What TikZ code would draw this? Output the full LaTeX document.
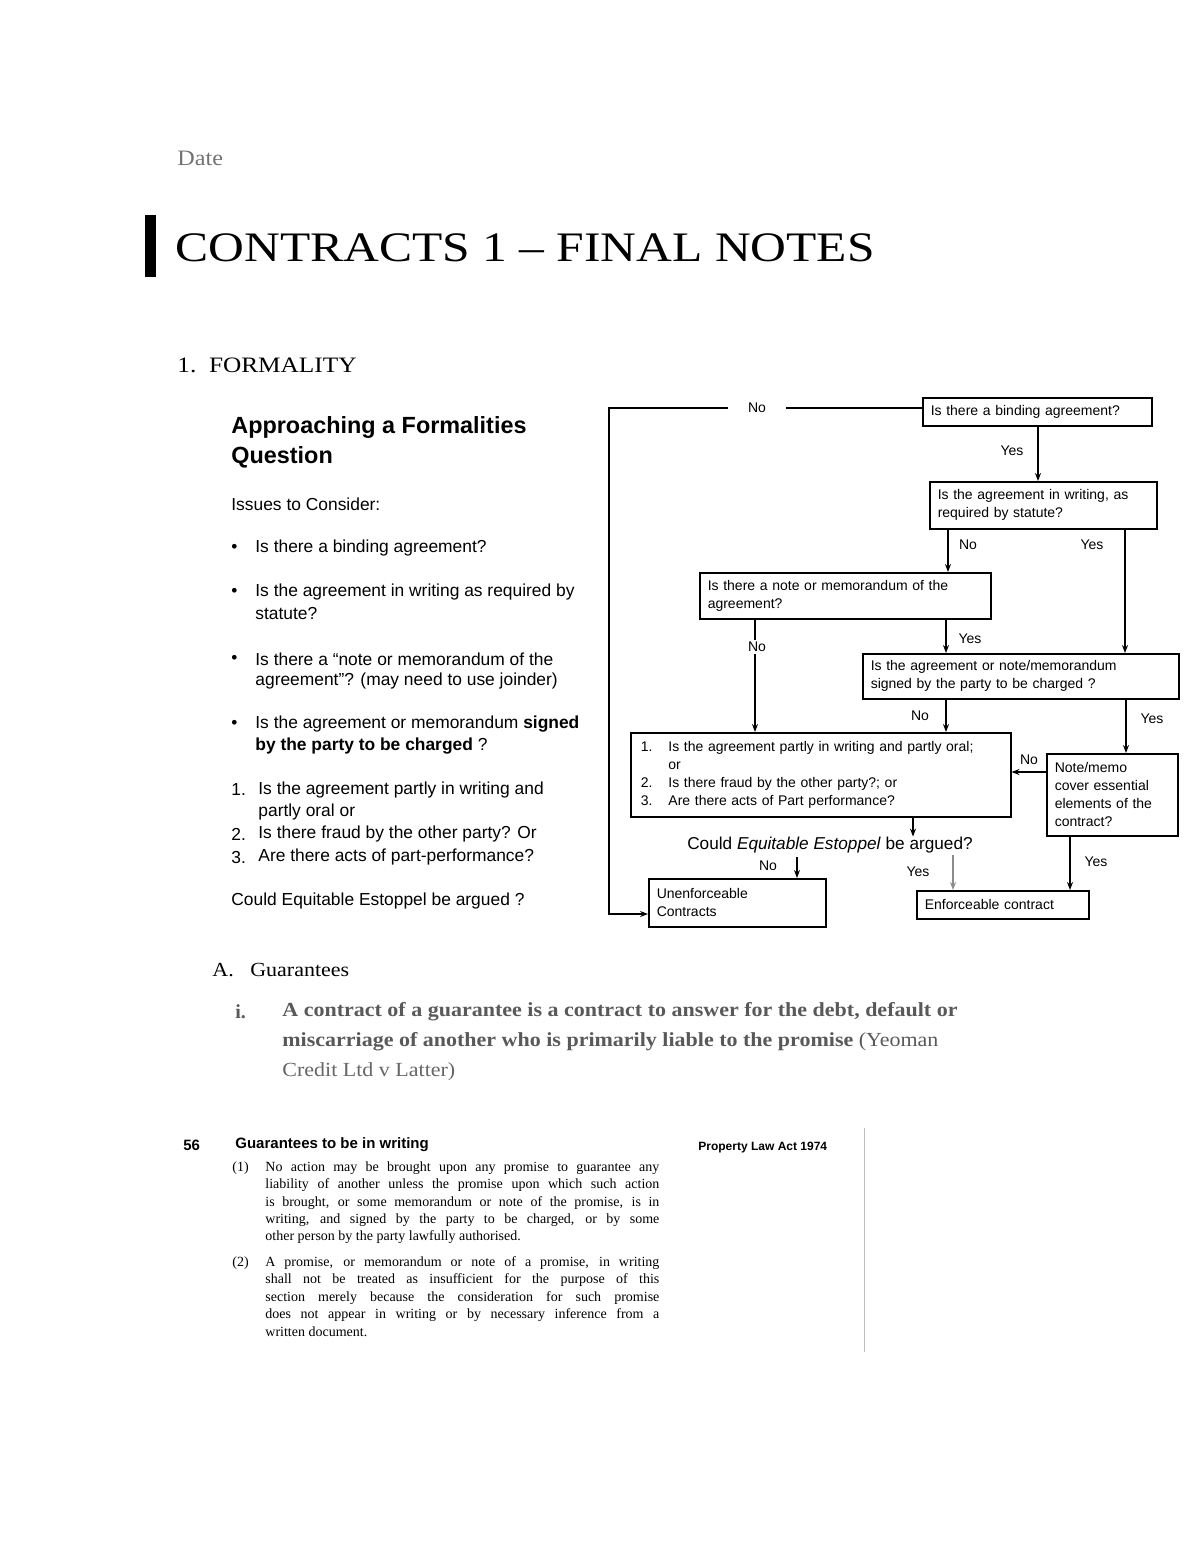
\documentclass[tikz,border=0pt]{standalone}
\usepackage{fontspec}
\setmainfont{Liberation Serif}
\setsansfont{Liberation Sans}
\usetikzlibrary{arrows.meta}
\begin{document}
\begin{tikzpicture}[x=0.5pt,y=-0.5pt,
  fc/.style={font=\sffamily\fontsize{7}{9}\selectfont},
  box/.style={draw,line width=0.75pt,fc,align=left,anchor=north west,inner xsep=4pt,inner ysep=2pt},
  lbl/.style={fc,inner sep=1pt},
  arr/.style={line width=0.6pt,-{Stealth[length=4pt,width=3pt]}},
  ln/.style={line width=0.6pt},
  lp/.style={font=\sffamily\fontsize{8.7}{11}\selectfont,anchor=west,inner sep=0pt},
  st/.style={font=\fontsize{7}{8.5}\selectfont,anchor=west,inner sep=0pt},
  gb/.style={font=\bfseries\fontsize{10}{13}\selectfont,anchor=west,inner sep=0pt,text=black!65}]
\useasboundingbox (0,0) rectangle (1200,1553);
% header
\node[anchor=west,inner sep=0pt,text=black!55,font=\fontsize{11}{13}\selectfont] (date) at (177,158) {\scalebox{1.1}[1]{Date}};
\fill (145,215) rectangle (156,277);
\node[anchor=west,inner sep=0pt,font=\fontsize{21}{25}\selectfont] (title) at (175,248) {\scalebox{1.18}[1]{CONTRACTS 1 -- FINAL NOTES}};
\node[anchor=west,inner sep=0pt,font=\fontsize{11}{13}\selectfont] (sec) at (177,365) {\scalebox{1.15}[1]{1.\ \ FORMALITY}};
% left panel
\node[anchor=west,inner sep=0pt,font=\sffamily\bfseries\fontsize{11.7}{13}\selectfont] (h1) at (231,427) {Approaching a Formalities};
\node[anchor=west,inner sep=0pt,font=\sffamily\bfseries\fontsize{11.7}{13}\selectfont] (h2) at (231,457) {Question};
\node[lp] (iss) at (231,504) {Issues to Consider:};
\foreach \y in {548,592,659,724} \node[lp] at (231,\y) {\textbullet};
\node[lp] (p1) at (255,548) {Is there a binding agreement?};
\node[lp] (p2) at (255,592) {Is the agreement in writing as required by};
\node[lp] (p2b) at (255,614) {statute?};
\node[lp] (p3) at (255,659) {Is there a “note or memorandum of the};
\node[lp] (p3b) at (255,681) {agreement”? (may need to use joinder)};
\node[lp] (p4) at (255,724) {Is the agreement or memorandum \textbf{signed}};
\node[lp] (p4b) at (255,746) {\textbf{by the party to be charged} ?};
\node[lp] (n1) at (231,790) {1.};
\node[lp] (n1t) at (258,790) {Is the agreement partly in writing and};
\node[lp] (n1b) at (258,812) {partly oral or};
\node[lp] (n2) at (231,834) {2.};
\node[lp] (n2t) at (258,834) {Is there fraud by the other party? Or};
\node[lp] (n3) at (231,857) {3.};
\node[lp] (n3t) at (258,857) {Are there acts of part-performance?};
\node[lp] (ce) at (231,901) {Could Equitable Estoppel be argued ?};
% flowchart boxes
\node[box,text width=106.5pt,minimum height=14pt] (b1) at (922,397) {Is there a binding agreement?};
\node[box,text width=105.5pt,minimum height=23.5pt] (b2) at (929,481) {Is the agreement in writing, as\\required by statute?};
\node[box,text width=137.5pt,minimum height=23pt] (b3) at (699,572) {Is there a note or memorandum of the\\agreement?};
\node[box,text width=150pt,minimum height=22.5pt] (b4) at (862,653) {Is the agreement or note/memorandum\\signed by the party to be charged ?};
\node[box,text width=184pt,minimum height=42pt,inner xsep=3pt] (b5) at (630,732) {\begin{tabular}{@{\hspace{2pt}}l@{\hspace{8pt}}l@{}}1. & Is the agreement partly in writing and partly oral;\\ & or\\ 2. & Is there fraud by the other party?; or\\ 3. & Are there acts of Part performance?\end{tabular}};
\node[box,text width=57.5pt,minimum height=41pt] (b6) at (1046,753) {Note/memo\\cover essential\\elements of the\\contract?};
\node[box,text width=80.5pt,minimum height=24pt] (b7) at (648,878) {Unenforceable\\Contracts};
\node[box,text width=78pt,minimum height=14pt] (b8) at (916,890) {Enforceable contract};
\node[font=\sffamily\fontsize{8.6}{10}\selectfont,inner sep=0pt] (eq) at (830,845) {Could \textit{Equitable Estoppel} be argued?};
% connectors
\node[lbl,fill=white,inner xsep=10pt] (no1) at (757,408) {No};
\draw[ln] (b1.west |- 0,408) -- (no1.east);
\coordinate (c1) at (609,408);
\draw[arr] (no1.west) -- (c1) -- (609,914) -- (b7.west |- 0,914);
\draw[arr] (b1.south -| 1038,0) -- (b2.north -| 1038,0);
\node[lbl] (y1) at (1012,451) {Yes};
\draw[arr] (b2.south -| 948,0) -- (b3.north -| 948,0);
\node[lbl] (no2) at (968,545) {No};
\draw[arr] (b2.south -| 1125,0) -- (b4.north -| 1125,0);
\node[lbl] (y2) at (1092,545) {Yes};
\node[lbl] (no3) at (757,647) {No};
\draw[ln] (b3.south -| 755,0) -- (no3.north -| 755,0);
\draw[arr] (no3.south -| 755,0) -- (b5.north -| 755,0);
\draw[arr] (b3.south -| 946,0) -- (b4.north -| 946,0);
\node[lbl] (y3) at (970,639) {Yes};
\draw[arr] (b4.south -| 946,0) -- (b5.north -| 946,0);
\node[lbl] (no4) at (920,716) {No};
\draw[arr] (b4.south -| 1126,0) -- (b6.north -| 1126,0);
\node[lbl] (y4) at (1152,719) {Yes};
\draw[arr] (b6.west |- 0,772) -- (b5.east |- 0,772);
\node[lbl] (no5) at (1029,760) {No};
\draw[arr] (b5.south -| 913,0) -- (eq.north -| 913,0);
\coordinate (e1) at (797,857);
\draw[arr] (e1) -- (b7.north -| 797,0);
\node[lbl] (no6) at (768,866) {No};
\coordinate (e2) at (953,855);
\draw[arr,black!45] (e2) -- (b8.north -| 953,0);
\node[lbl] (y5) at (918,872) {Yes};
\draw[arr] (b6.south -| 1070,0) -- (b8.north -| 1070,0);
\node[lbl] (y6) at (1096,862) {Yes};
% guarantees
\node[anchor=west,inner sep=0pt,font=\fontsize{10}{12}\selectfont] (ga) at (212,970) {\scalebox{1.1}[1]{A.\ \ \ Guarantees}};
\node[gb] (gi) at (235,1012) {i.};
\node[gb] (g1) at (282,1012) {\scalebox{1.1}[1]{A contract of a guarantee is a contract to answer for the debt, default or}};
\node[gb] (g2) at (282,1042) {\scalebox{1.1}[1]{miscarriage of another who is primarily liable to the promise \textmd{(Yeoman}}};
\node[anchor=west,inner sep=0pt,font=\fontsize{10}{12}\selectfont,text=black!60] (g3) at (282,1072) {\scalebox{1.1}[1]{Credit Ltd v Latter)}};
% statute
\node[anchor=west,inner sep=0pt,font=\sffamily\bfseries\fontsize{7.5}{9}\selectfont] (s56) at (183,1145) {56};
\node[anchor=west,inner sep=0pt,font=\sffamily\bfseries\fontsize{7.5}{9}\selectfont] (sh) at (235,1145) {Guarantees to be in writing};
\node[anchor=west,inner sep=0pt,font=\sffamily\bfseries\fontsize{6}{8}\selectfont] (pla) at (698,1148) {Property Law Act 1974};
\draw[black!25,line width=0.5pt] (864,1128) -- (864,1352);
\node[st] (s1) at (232,1168) {(1)};
\node[st] at (265,1168) {\makebox[197pt][s]{No action may be brought upon any promise to guarantee any}};
\node[st] at (265,1185) {\makebox[197pt][s]{liability of another unless the promise upon which such action}};
\node[st] at (265,1203) {\makebox[197pt][s]{is brought, or some memorandum or note of the promise, is in}};
\node[st] at (265,1220) {\makebox[197pt][s]{writing, and signed by the party to be charged, or by some}};
\node[st] at (265,1237) {other person by the party lawfully authorised.};
\node[st] (s2) at (232,1263) {(2)};
\node[st] at (265,1263) {\makebox[197pt][s]{A promise, or memorandum or note of a promise, in writing}};
\node[st] at (265,1280) {\makebox[197pt][s]{shall not be treated as insufficient for the purpose of this}};
\node[st] at (265,1298) {\makebox[197pt][s]{section merely because the consideration for such promise}};
\node[st] at (265,1315) {\makebox[197pt][s]{does not appear in writing or by necessary inference from a}};
\node[st] at (265,1332) {written document.};
\end{tikzpicture}
\end{document}
